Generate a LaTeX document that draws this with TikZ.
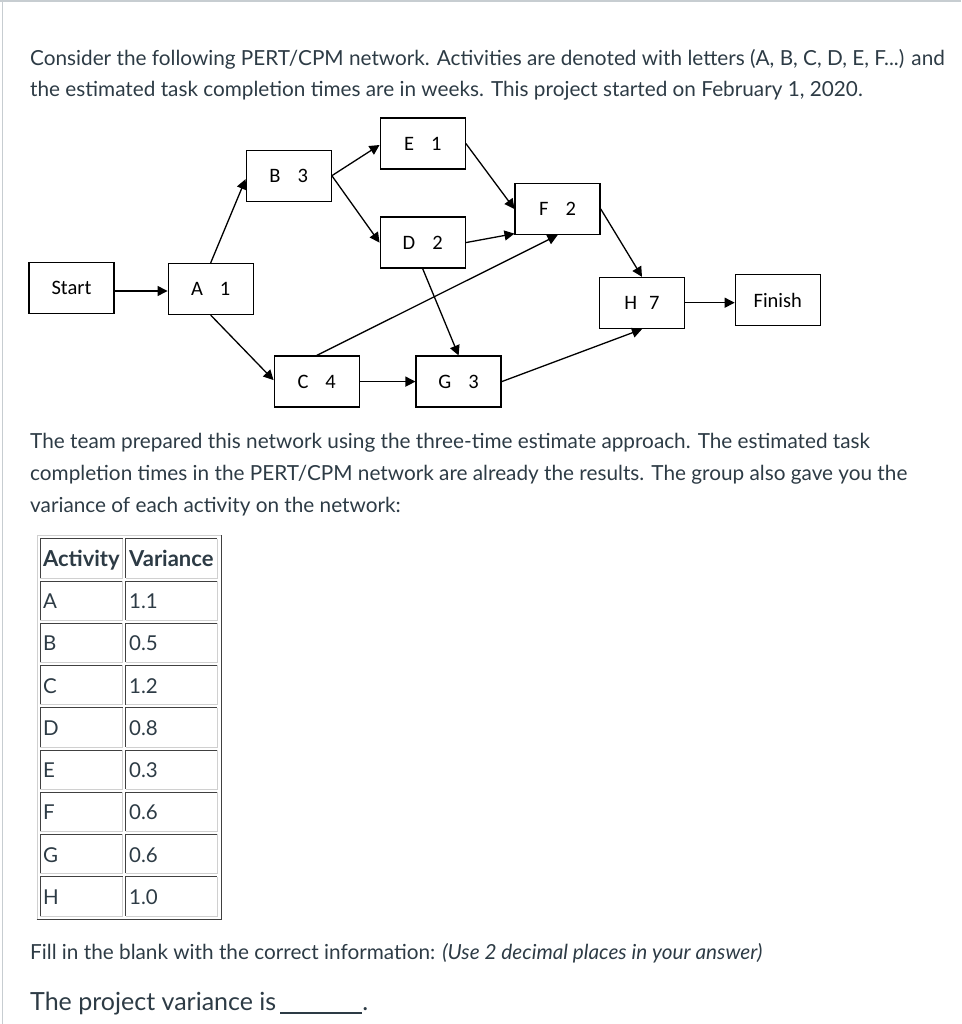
\documentclass[tikz,border=0pt]{standalone}
\usepackage{fontspec}
\setmainfont{Lato}
\newfontfamily\calibri{Carlito}
\usetikzlibrary{arrows.meta,calc}
\definecolor{inktext}{HTML}{2D3B45}
\definecolor{framegray}{HTML}{C7CDD1}
\definecolor{celldark}{HTML}{404040}
\definecolor{celllight}{HTML}{D0D0D0}
\tikzset{
  act/.style={draw,line width=1.3pt,minimum width=85pt,minimum height=51pt,inner sep=0pt,
    font=\calibri\fontsize{20.5}{24}\selectfont},
  arr/.style={-{Triangle[length=10pt,width=10pt]},line width=1.3pt},
  para/.style={anchor=base west,inner sep=0pt,text=inktext,font=\fontsize{20.75}{25}\selectfont},
  cellbox/.style={inner sep=0pt,minimum height=38.8pt},
  celltext/.style={anchor=base west,inner sep=0pt,text=inktext,font=\fontsize{20.5}{24}\selectfont},
}
\newcommand{\dur}[3][17pt]{#2\hspace{#1}#3}
\newcommand{\colhead}[1]{{\bfseries\fontsize{22}{26}\selectfont #1}}
\begin{document}
\begin{tikzpicture}[x=1pt,y=-1pt]
\useasboundingbox (0,0) rectangle (961,1024);
% page frame
\draw[framegray,line width=1.5pt] (0,1) -- (961,1);
\draw[framegray,line width=1.5pt] (2.5,0) -- (2.5,1024);

% question text
\node[para] (intro1) at (30,65.7) {Consider the following PERT/CPM network. Activities are denoted with letters (A, B, C, D, E, F...) and};
\node[para] (intro2) at (30,96.7) {the estimated task completion times are in weeks. This project started on February 1, 2020.};

% network
\node[act] (start) at (71.5,287.8) {Start};
\node[act] (a) at (210.7,289) {\dur{A}{1}};
\node[act] (b) at (288.7,175.7) {\dur{B}{3}};
\node[act] (e) at (422.7,143.5) {\dur{E}{1}};
\node[act] (d) at (422.7,242.6) {\dur{D}{2}};
\node[act] (c) at (316.7,381.6) {\dur{C}{4}};
\node[act] (g) at (458.6,381.6) {\dur{G}{3}};
\node[act] (f) at (557.6,209) {\dur{F}{2}};
\node[act] (h) at (642,303) {\dur[12pt]{H}{7}};
\node[act] (finish) at (777.8,300.2) {Finish};

\draw[arr] (start.east |- 0,291) -- (a.west |- 0,291);
\draw[arr] (a.north) -- ([yshift=-3.5pt]b.west);
\draw[arr] (a.south) -- ([yshift=1.5pt]c.west);
\draw[arr] (b.east) -- ([yshift=-1.5pt]e.west);
\draw[arr] (b.east) -- (d.west);
\draw[arr] (e.east) -- (f.west);
\draw[arr] (d.east) -- ([yshift=1.5pt]f.south west);
\draw[arr] (c.north) -- (f.south);
\draw[arr] (d.south) -- (g.north);
\draw[arr] (c.east) -- (g.west);
\draw[arr] (g.east) -- (h.south);
\draw[arr] (f.east) -- (h.north);
\draw[arr] (h.east |- 0,302.7) -- (finish.west |- 0,302.7);

\node[para] (mid1) at (30,448.3) {The team prepared this network using the three-time estimate approach. The estimated task};
\node[para] (mid2) at (30,480.7) {completion times in the PERT/CPM network are already the results. The group also gave you the};
\node[para] (mid3) at (30,512.7) {variance of each activity on the network:};

% variance table
\draw[celllight] (36.7,919) |- (220.7,535);
\draw[celldark] (36.7,919) -| (220.7,535);
\foreach \ac/\va [count=\k from 0] in {{\colhead{Activity}}/{\colhead{Variance}},A/1.1,B/0.5,C/1.2,D/0.8,E/0.3,F/0.6,G/0.6,H/1.0}{
  \node[cellbox,minimum width=82.3pt] (act\k) at (81.15,558.2+\k*42.24) {};
  \node[cellbox,minimum width=91pt] (var\k) at (171.2,558.2+\k*42.24) {};
  \draw[celldark] (act\k.south west) |- (act\k.north east);
  \draw[celllight] (act\k.south west) -| (act\k.north east);
  \draw[celldark] (var\k.south west) |- (var\k.north east);
  \draw[celllight] (var\k.south west) -| (var\k.north east);
  \node[celltext] (acttxt\k) at ($(act\k.north west)+(3,27.8)$) {\ac};
  \node[celltext] (vartxt\k) at ($(var\k.north west)+(3.5,27.8)$) {\va};
}

\node[para] (fill) at (30,959) {Fill in the blank with the correct information: \textit{(Use 2 decimal places in your answer)}};
\node[para,font=\fontsize{25}{30}\selectfont] (answer) at (30,1010) {The project variance is\,\rule[-3.5pt]{82pt}{1.2pt}.};
\end{tikzpicture}
\end{document}
